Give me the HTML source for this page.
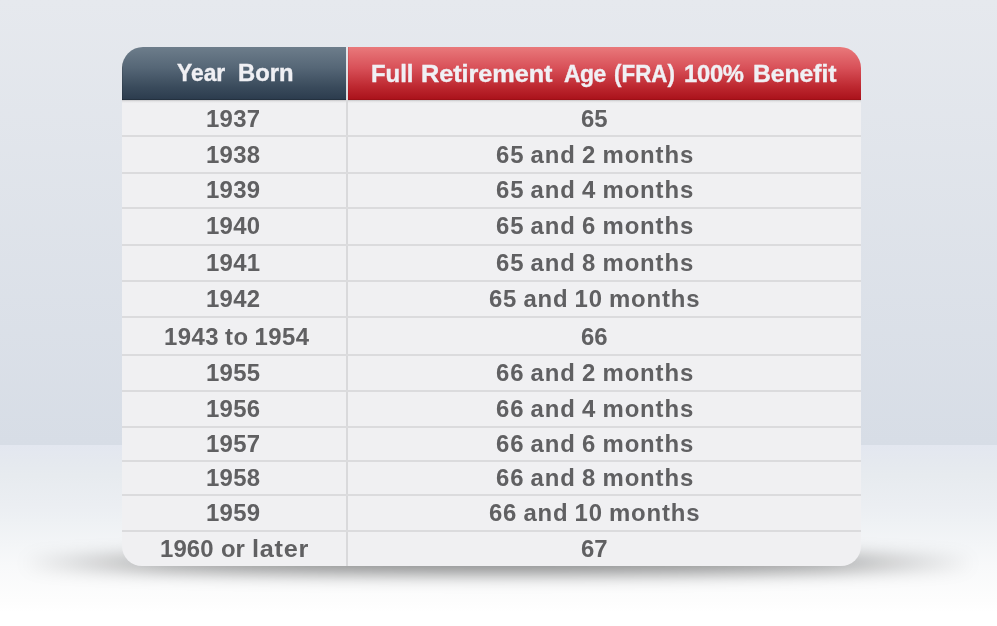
<!DOCTYPE html>
<html lang="en">
<head>
<meta charset="utf-8">
<title>Full Retirement Age (FRA) by Year Born</title>
<style>
html,body{margin:0;padding:0;}
body{width:997px;height:626px;overflow:hidden;position:relative;
  font-family:"Liberation Sans",sans-serif;font-weight:bold;
  background:#fff;}
.wall{position:absolute;left:0;top:0;width:997px;height:444.5px;
  background:linear-gradient(to bottom,#e6e9ee 0%,#d7dde6 100%);}
.floor{position:absolute;left:0;top:444.5px;width:997px;height:181.5px;
  background:linear-gradient(to bottom,#e3e7f0 0%,#e5e9ef 9%,#e7ebef 17%,#ebeef2 33%,#eef1f4 42%,#f8f9fa 67%,#fdfdfd 86%,#ffffff 92%);}
.shadow{position:absolute;left:26px;top:552px;width:944px;height:22px;border-radius:50%;
  background:radial-gradient(ellipse closest-side,rgba(0,0,0,0.5) 0%,rgba(0,0,0,0.5) 72%,rgba(0,0,0,0.1) 100%);filter:blur(9px);}
.card{position:absolute;left:122px;top:47px;width:739px;height:519px;
  border-radius:21px 21px 20px 20px;overflow:hidden;background:#f0f0f2;}
.h1{position:absolute;left:0;top:0;width:224px;height:53px;box-shadow:inset 1px 0 0 rgba(0,0,0,0.12),inset 0 -1px 0 rgba(0,0,0,0.18);
  background:linear-gradient(to bottom,#6d7d8b 0%,#556676 40%,#3a4b5c 75%,#2b3b4d 100%);}
.h2{position:absolute;left:226px;top:0;width:513px;height:53px;box-shadow:inset 1px 0 0 rgba(120,0,0,0.12),inset 0 -1px 0 rgba(90,0,0,0.15);
  background:linear-gradient(to bottom,#e9797b 0%,#d85058 40%,#bd2830 75%,#a9111a 100%);}
.hd{position:absolute;left:224px;top:0;width:2px;height:53px;background:linear-gradient(to bottom,#e4e7eb,#d9dbde);}
.hs{position:absolute;left:0;top:53px;width:739px;height:3px;
  background:linear-gradient(to bottom,#c6c6c8 0%,#e3e3e5 50%,#f0f0f2 100%);}
.vd{position:absolute;left:224px;top:53px;width:2px;height:466px;background:#d9d9db;}
.ln{position:absolute;left:0;width:739px;height:2px;background:#dbdbdd;}
.t{position:absolute;white-space:nowrap;line-height:30px;height:30px;transform-origin:0 0;transform:scaleX(1.04);word-spacing:-1.2px;}
.hdr{font-size:24px;color:#f0f0f4;-webkit-text-stroke:0.4px #f0f0f4;}
.bd{font-size:23px;color:#606062;}
</style>
</head>
<body>
<div class="wall"></div>
<div class="floor"></div>
<div class="shadow"></div>
<div class="card" role="table">
  <div class="h1"></div><div class="hd"></div><div class="h2"></div>
  <div class="hs"></div>
  <div class="vd"></div>
  <div class="ln" style="top:88px"></div>
  <div class="ln" style="top:125px"></div>
  <div class="ln" style="top:160px"></div>
  <div class="ln" style="top:197px"></div>
  <div class="ln" style="top:233px"></div>
  <div class="ln" style="top:269px"></div>
  <div class="ln" style="top:307px"></div>
  <div class="ln" style="top:343px"></div>
  <div class="ln" style="top:379px"></div>
  <div class="ln" style="top:413px"></div>
  <div class="ln" style="top:447px"></div>
  <div class="ln" style="top:483px"></div>
  <div role="row">
    <div role="columnheader"><span class="t hdr" style="left:55.17px;top:11px;transform:scaleX(0.951)">Year</span> <span class="t hdr" style="left:116.26px;top:11px;transform:scaleX(0.990)">Born</span></div>
    <div role="columnheader"><span class="t hdr" style="left:249.07px;top:12px;transform:scaleX(0.996)">Full</span> <span class="t hdr" style="left:298.69px;top:12px;letter-spacing:-0.05px;transform:scaleX(1.053)">Retirement</span> <span class="t hdr" style="left:441.66px;top:12px;letter-spacing:-0.46px;transform:scaleX(0.953)">Age</span> <span class="t hdr" style="left:492.42px;top:12px;letter-spacing:0.02px;transform:scaleX(0.931)">(FRA)</span> <span class="t hdr" style="left:561.62px;top:12px;letter-spacing:-0.27px;transform:scaleX(0.990)">100%</span> <span class="t hdr" style="left:630.9px;top:12px;letter-spacing:-0.05px;transform:scaleX(1.031)">Benefit</span></div>
  </div>
  <div role="row">
    <div role="cell"><span class="t bd" style="left:83.82px;top:57px;letter-spacing:0.25px">1937</span></div>
    <div role="cell"><span class="t bd" style="left:459.3px;top:57px">65</span></div>
  </div>
  <div role="row">
    <div role="cell"><span class="t bd" style="left:83.82px;top:93px;letter-spacing:0.25px">1938</span></div>
    <div role="cell"><span class="t bd" style="left:374.46px;top:93px;letter-spacing:0.84px">65 and 2 months</span></div>
  </div>
  <div role="row">
    <div role="cell"><span class="t bd" style="left:83.82px;top:128px;letter-spacing:0.25px">1939</span></div>
    <div role="cell"><span class="t bd" style="left:374.46px;top:128px;letter-spacing:0.84px">65 and 4 months</span></div>
  </div>
  <div role="row">
    <div role="cell"><span class="t bd" style="left:83.82px;top:164px;letter-spacing:0.25px">1940</span></div>
    <div role="cell"><span class="t bd" style="left:374.46px;top:164px;letter-spacing:0.84px">65 and 6 months</span></div>
  </div>
  <div role="row">
    <div role="cell"><span class="t bd" style="left:83.82px;top:201px;letter-spacing:0.25px">1941</span></div>
    <div role="cell"><span class="t bd" style="left:374.46px;top:201px;letter-spacing:0.84px">65 and 8 months</span></div>
  </div>
  <div role="row">
    <div role="cell"><span class="t bd" style="left:83.82px;top:237px;letter-spacing:0.25px">1942</span></div>
    <div role="cell"><span class="t bd" style="left:367.4px;top:237px;letter-spacing:0.78px">65 and 10 months</span></div>
  </div>
  <div role="row">
    <div role="cell"><span class="t bd" style="left:42.39px;top:275px;letter-spacing:0.46px">1943 to 1954</span></div>
    <div role="cell"><span class="t bd" style="left:459.3px;top:275px">66</span></div>
  </div>
  <div role="row">
    <div role="cell"><span class="t bd" style="left:83.82px;top:311px;letter-spacing:0.25px">1955</span></div>
    <div role="cell"><span class="t bd" style="left:374.46px;top:311px;letter-spacing:0.84px">66 and 2 months</span></div>
  </div>
  <div role="row">
    <div role="cell"><span class="t bd" style="left:83.82px;top:347px;letter-spacing:0.25px">1956</span></div>
    <div role="cell"><span class="t bd" style="left:374.46px;top:347px;letter-spacing:0.84px">66 and 4 months</span></div>
  </div>
  <div role="row">
    <div role="cell"><span class="t bd" style="left:83.82px;top:382px;letter-spacing:0.25px">1957</span></div>
    <div role="cell"><span class="t bd" style="left:374.46px;top:382px;letter-spacing:0.84px">66 and 6 months</span></div>
  </div>
  <div role="row">
    <div role="cell"><span class="t bd" style="left:83.82px;top:416px;letter-spacing:0.25px">1958</span></div>
    <div role="cell"><span class="t bd" style="left:374.46px;top:416px;letter-spacing:0.84px">66 and 8 months</span></div>
  </div>
  <div role="row">
    <div role="cell"><span class="t bd" style="left:83.82px;top:451px;letter-spacing:0.25px">1959</span></div>
    <div role="cell"><span class="t bd" style="left:367.4px;top:451px;letter-spacing:0.78px">66 and 10 months</span></div>
  </div>
  <div role="row">
    <div role="cell"><span class="t bd" style="left:37.77px;top:487px;letter-spacing:0.09px">1960</span> <span class="t bd" style="left:99px;top:487px">or</span> <span class="t bd" style="left:130.16px;top:487px;letter-spacing:0.65px;transform:scaleX(1.100)">later</span></div>
    <div role="cell"><span class="t bd" style="left:459.3px;top:487px">67</span></div>
  </div>
</div>
</body>
</html>
